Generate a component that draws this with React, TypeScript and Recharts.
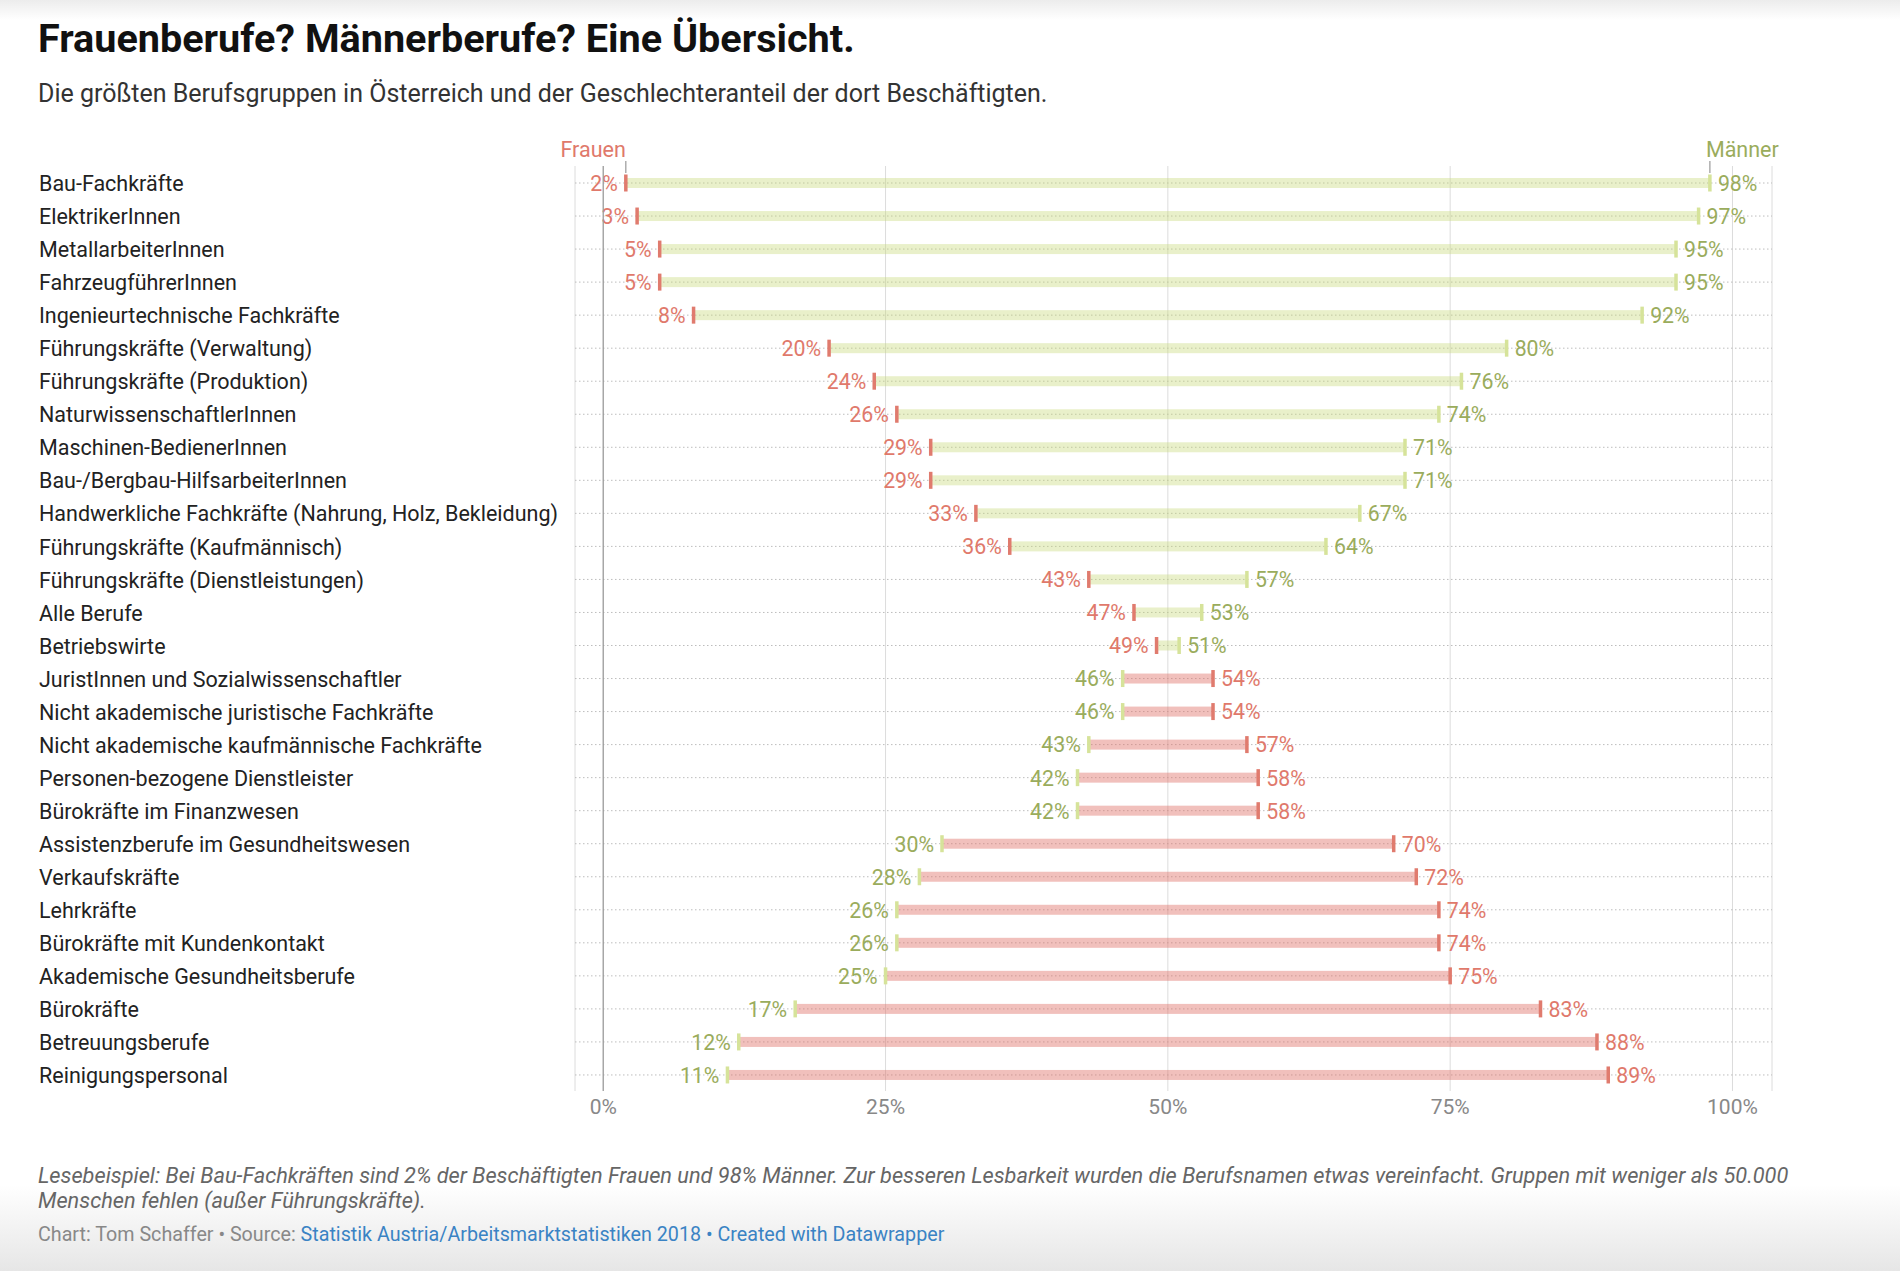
import React from "react";
import {
  ComposedChart,
  Bar,
  XAxis,
  YAxis,
  CartesianGrid,
  ReferenceLine,
} from "recharts";

// Berufsgruppen (von oben nach unten)
const categories = [
  "Bau-Fachkräfte",
  "ElektrikerInnen",
  "MetallarbeiterInnen",
  "FahrzeugführerInnen",
  "Ingenieurtechnische Fachkräfte",
  "Führungskräfte (Verwaltung)",
  "Führungskräfte (Produktion)",
  "NaturwissenschaftlerInnen",
  "Maschinen-BedienerInnen",
  "Bau-/Bergbau-HilfsarbeiterInnen",
  "Handwerkliche Fachkräfte (Nahrung, Holz, Bekleidung)",
  "Führungskräfte (Kaufmännisch)",
  "Führungskräfte (Dienstleistungen)",
  "Alle Berufe",
  "Betriebswirte",
  "JuristInnen und Sozialwissenschaftler",
  "Nicht akademische juristische Fachkräfte",
  "Nicht akademische kaufmännische Fachkräfte",
  "Personen-bezogene Dienstleister",
  "Bürokräfte im Finanzwesen",
  "Assistenzberufe im Gesundheitswesen",
  "Verkaufskräfte",
  "Lehrkräfte",
  "Bürokräfte mit Kundenkontakt",
  "Akademische Gesundheitsberufe",
  "Bürokräfte",
  "Betreuungsberufe",
  "Reinigungspersonal",
];

// Anteil Frauen / Männer in %
const frauen = [2, 3, 5, 5, 8, 20, 24, 26, 29, 29, 33, 36, 43, 47, 49, 54, 54, 57, 58, 58, 70, 72, 74, 74, 75, 83, 88, 89];
const maenner = [98, 97, 95, 95, 92, 80, 76, 74, 71, 71, 67, 64, 57, 53, 51, 46, 46, 43, 42, 42, 30, 28, 26, 26, 25, 17, 12, 11];

const xTicks = [0, 25, 50, 75, 100];

const data = categories.map((name, i) => ({
  name,
  frauen: frauen[i],
  maenner: maenner[i],
}));

const F_TEXT = "#e0796b";
const F_MARK = "#e07b6e";
const F_BAR = "#e0736a";
const M_TEXT = "#9aac5c";
const M_MARK = "#d6e39a";
const M_BAR = "#c9d97a";
const FONT = "Roboto, 'Noto Sans', sans-serif";

const RowShape = (props: any) => {
  const { x, y, width, height, payload, index } = props;
  const cy = y + height / 2;
  const menMajor = payload.maenner > payload.frauen;
  const left = Math.min(x, x + width);
  const right = Math.max(x, x + width);
  const fx = menMajor ? left : right;
  const mx = menMajor ? right : left;
  const leftColor = menMajor ? F_TEXT : M_TEXT;
  const rightColor = menMajor ? M_TEXT : F_TEXT;
  const leftVal = menMajor ? payload.frauen : payload.maenner;
  const rightVal = menMajor ? payload.maenner : payload.frauen;
  return (
    <g>
      <rect
        x={left}
        y={y}
        width={right - left}
        height={height}
        fill={menMajor ? M_BAR : F_BAR}
        fillOpacity={menMajor ? 0.4 : 0.45}
      />
      <rect x={mx - 1.75} y={cy - 8.5} width={3.5} height={17} fill={M_MARK} />
      <rect x={fx - 1.75} y={cy - 8.5} width={3.5} height={17} fill={F_MARK} />
      <text x={left - 8} y={cy} dy="0.37em" textAnchor="end" fontSize={21.3} fill={leftColor} fontFamily={FONT}>
        {leftVal}%
      </text>
      <text x={right + 8} y={cy} dy="0.37em" textAnchor="start" fontSize={21.3} fill={rightColor} fontFamily={FONT}>
        {rightVal}%
      </text>
      {index === 0 && (
        <g>
          <line x1={fx} x2={fx} y1={cy - 22} y2={cy - 10} stroke="#999" strokeWidth={1.2} />
          <line x1={mx} x2={mx} y1={cy - 22} y2={cy - 10} stroke="#999" strokeWidth={1.2} />
          <text x={fx} y={cy - 26} textAnchor="end" fontSize={21.5} fill={F_TEXT} fontFamily={FONT}>
            Frauen
          </text>
          <text x={mx - 4} y={cy - 26} textAnchor="start" fontSize={21.5} fill={M_TEXT} fontFamily={FONT}>
            Männer
          </text>
        </g>
      )}
    </g>
  );
};

const RowLine = (props: any) => {
  const { x, y, width, height } = props;
  const cy = y + height / 2;
  return (
    <line x1={x} x2={x + width} y1={cy} y2={cy} stroke="#bdbdbd" strokeWidth={1} strokeDasharray="1.5 2.5" />
  );
};

const CategoryTick = (props: any) => {
  const { y, payload } = props;
  return (
    <text x={39} y={y} dy="0.4em" textAnchor="start" fontSize={21.5} fill="#222" fontFamily={FONT}>
      {payload.value}
    </text>
  );
};

export default function App() {
  return (
    <div
      style={{
        position: "absolute",
        left: 0,
        top: 0,
        width: 1900,
        height: 1271,
        fontFamily: FONT,
        background:
          "linear-gradient(to bottom, #ececec 0px, #ffffff 20px, #ffffff 1185px, #e6e6e6 1271px)",
        overflow: "hidden",
      }}
    >
      <div
        style={{
          position: "absolute",
          left: 38,
          top: 16,
          fontSize: 39.6,
          lineHeight: "46px",
          fontWeight: 700,
          color: "#111",
        }}
      >
        Frauenberufe? Männerberufe? Eine Übersicht.
      </div>
      <div
        style={{
          position: "absolute",
          left: 38,
          top: 79,
          fontSize: 25,
          lineHeight: "30px",
          color: "#333",
        }}
      >
        Die größten Berufsgruppen in Österreich und der Geschlechteranteil der dort Beschäftigten.
      </div>

      <div style={{ position: "absolute", left: 0, top: 120 }}>
        <ComposedChart
          width={1900}
          height={1012}
          data={data}
          layout="vertical"
          margin={{ top: 46, right: 128, bottom: 0, left: 0 }}
        >
          <CartesianGrid horizontal={false} vertical={true} stroke="#dcdcdc" />
          <XAxis
            type="number"
            domain={[-2.5, 103.5]}
            ticks={xTicks}
            tickFormatter={(v: number) => `${v}%`}
            axisLine={false}
            tickLine={false}
            height={41}
            tick={{ fontSize: 21, fill: "#888", fontFamily: FONT }}
          />
          <YAxis
            type="category"
            dataKey="name"
            width={575}
            axisLine={false}
            tickLine={false}
            interval={0}
            tick={<CategoryTick />}
          />
          <ReferenceLine x={0} stroke="#9a9a9a" strokeWidth={1.2} />
          <Bar
            dataKey={(d: any) => [Math.min(d.frauen, d.maenner), Math.max(d.frauen, d.maenner)]}
            barSize={10}
            background={<RowLine />}
            shape={<RowShape />}
            isAnimationActive={false}
          />
        </ComposedChart>
      </div>

      <div
        style={{
          position: "absolute",
          left: 38,
          top: 1163,
          width: 1850,
          fontSize: 21.75,
          lineHeight: "25px",
          fontStyle: "italic",
          color: "#666",
          whiteSpace: "nowrap",
        }}
      >
        Lesebeispiel: Bei Bau-Fachkräften sind 2% der Beschäftigten Frauen und 98% Männer. Zur besseren Lesbarkeit
        wurden die Berufsnamen etwas vereinfacht. Gruppen mit weniger als 50.000
        <br />
        Menschen fehlen (außer Führungskräfte).
      </div>
      <div
        style={{
          position: "absolute",
          left: 38,
          top: 1223,
          fontSize: 19.7,
          lineHeight: "24px",
          color: "#888",
        }}
      >
        Chart: Tom Schaffer • Source:{" "}
        <span style={{ color: "#3a83c4" }}>Statistik Austria/Arbeitsmarktstatistiken 2018</span>
        <span style={{ color: "#3a83c4" }}> • Created with Datawrapper</span>
      </div>
    </div>
  );
}
